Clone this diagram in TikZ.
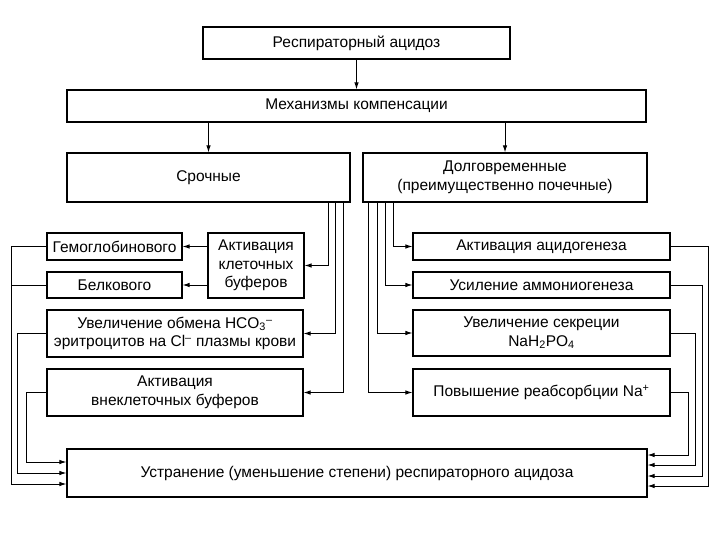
\documentclass[tikz,border=0pt]{standalone}
\usepackage{fontspec}
\setmainfont{Liberation Sans}
\usetikzlibrary{arrows.meta}

\begin{document}
\begin{tikzpicture}[
    x=1pt, y=-1pt,
    every node/.style={rectangle, draw=black, line width=1.2pt, inner sep=1pt, font=\fontsize{15.5}{18.5}\selectfont, align=center},
    arrow/.style={-{Latex[length=7pt,width=4.5pt]}, line width=0.9pt},
    link/.style={line width=0.9pt}
]
\useasboundingbox (0,0) rectangle (720,540);

\node[minimum width=307, minimum height=32] (t) at (356.5,43) {Респираторный ацидоз};
\node[minimum width=579, minimum height=32] (m) at (356.5,106) {Механизмы компенсации};
\node[minimum width=283, minimum height=49] (s) at (208.5,177.5) {Срочные};
\node[minimum width=284, minimum height=49] (d) at (505,177.5) {Долговременные\\(преимущественно почечные)};

% urgent side
\node[minimum width=96, minimum height=65] (ak) at (256,265.5) {Активация\\клеточных\\буферов};
\node[minimum width=135, minimum height=27] (g) at (114.5,246.5) {Гемоглобинового};
\node[minimum width=135, minimum height=26] (b) at (114.5,285) {Белкового};
\node[minimum width=256, minimum height=47] (u) at (175,333.5) {Увеличение обмена HCO\textsubscript{3}\textsuperscript{–}\\эритроцитов на Cl\textsuperscript{–} плазмы крови};
\node[minimum width=256, minimum height=47] (av) at (175,392.5) {Активация\\внеклеточных буферов};

% long-term side
\node[minimum width=257, minimum height=27] (ac) at (541.5,246.5) {Активация ацидогенеза};
\node[minimum width=257, minimum height=26] (am) at (541.5,285) {Усиление аммониогенеза};
\node[minimum width=257, minimum height=46] (se) at (541.5,333) {Увеличение секреции\\NaH\textsubscript{2}PO\textsubscript{4}};
\node[minimum width=257, minimum height=47] (r) at (541.5,392.5) {Повышение реабсорбции Na\textsuperscript{+}};

\node[minimum width=580, minimum height=48] (e) at (357,473) {Устранение (уменьшение степени) респираторного ацидоза};

\draw[arrow] (t) -- (m);
\draw[arrow] (m.south -| s.north) -- (s);
\draw[arrow] (m.south -| d.north) -- (d);

\draw[arrow] ([xshift=-22]s.south east) |- (ak);
\draw[arrow] ([xshift=-15]s.south east) |- (u);
\draw[arrow] ([xshift=-7]s.south east) |- (av);
\draw[arrow] (ak.west |- g) -- (g);
\draw[arrow] (ak.west |- b) -- (b);

\draw[arrow] ([xshift=31]d.south west) |- (ac);
\draw[arrow] ([xshift=23]d.south west) |- (am);
\draw[arrow] ([xshift=15]d.south west) |- (se);
\draw[arrow] ([xshift=6]d.south west) |- (r);

% back to the result
\draw[arrow] (g.west) -- ++(-35,0) |- ([yshift=-11]e.west);
\draw[link] (b.west) -- ++(-35,0);
\draw[arrow] (u.west) -- ++(-29,0) |- (e.west);
\draw[arrow] (av.west) -- ++(-20,0) |- ([yshift=11]e.west);

\draw[arrow] (ac.east) -- ++(38,0) |- ([yshift=-13]e.east);
\draw[arrow] (am.east) -- ++(32,0) |- ([yshift=-3]e.east);
\draw[arrow] (se.east) -- ++(25,0) |- ([yshift=8]e.east);
\draw[arrow] (r.east) -- ++(18,0) |- ([yshift=18]e.east);
\end{tikzpicture}
\end{document}
